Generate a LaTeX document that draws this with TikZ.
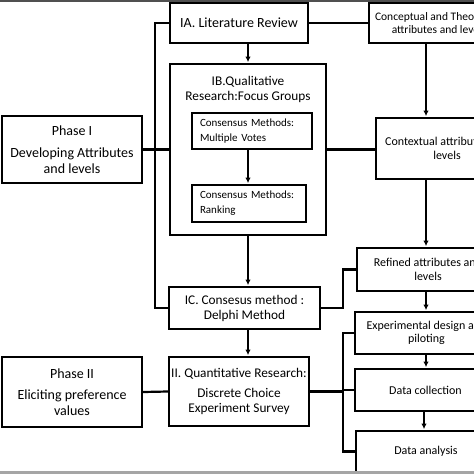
\documentclass[tikz,border=0pt]{standalone}
\usepackage{fontspec}
\setmainfont{Carlito}
\usetikzlibrary{arrows.meta}
\definecolor{topband}{RGB}{80,80,80}
\definecolor{botband}{RGB}{165,165,165}
\begin{document}
\begin{tikzpicture}[x=1pt,y=-1pt,
  box/.style={draw, line width=2.2pt, inner sep=0pt, align=center},
  conn/.style={line width=2.2pt},
  arr/.style={line width=1.1pt, -{Latex[length=5.5pt,width=5.5pt]}, shorten >=0.8pt},
  big/.style={font=\fontsize{14}{15.5}\selectfont},
  mid/.style={font=\fontsize{13.3}{15}\selectfont},
  rsm/.style={font=\fontsize{12}{13.5}\selectfont},
  csm/.style={font=\fontsize{11}{15}\selectfont}]
\useasboundingbox (0,0) rectangle (474,474);
\fill[white] (0,0) rectangle (474,474);
\clip (0,0) rectangle (474,474);
% coordinates for connector columns
\coordinate (vL) at (155,0);
\coordinate (vR) at (343,0);
\coordinate (xa) at (248,0);
\coordinate (xb) at (426,0);
\coordinate (xc) at (424,0);
% boxes
\node[box, big, minimum width=138pt, minimum height=40pt] (IA) at (239,23) {IA. Literature Review};
\node[box, font=\fontsize{11.5}{13.3}\selectfont, minimum width=140pt, minimum height=40pt] (Conc) at (439,23) {Conceptual and Theoretical\\attributes and levels};
\node[box, big, minimum width=140pt, minimum height=67pt] (P1) at (72,149.5) {Phase I\\[6.5pt]Developing Attributes\\and levels};
\node[box, minimum width=156pt, minimum height=171pt] (IB) at (248,149.5) {};
\node[mid, align=center, inner sep=0pt] (IBt) at (248,89) {IB.Qualitative\\Research:Focus Groups};
\node[box, csm, align=left, text width=104pt, minimum width=120pt, minimum height=36pt] (MV) at (252,131) {Consensus Methods:\\Multiple Votes};
\node[box, csm, align=left, text width=98pt, minimum width=114pt, minimum height=37pt] (Rank) at (249,203.5) {Consensus Methods:\\Ranking};
\node[box, rsm, minimum width=142pt, minimum height=61pt] (Ctx) at (447,148.5) {Contextual attributes and\\levels};
\node[box, rsm, minimum width=142pt, minimum height=43pt] (Ref) at (428,269.5) {Refined attributes and\\levels};
\node[box, mid, minimum width=151pt, minimum height=42pt] (IC) at (244.5,308) {IC. Consesus method :\\Delphi Method};
\node[box, big, minimum width=140pt, minimum height=70pt] (P2) at (72,392) {Phase II\\[5.5pt]Eliciting preference\\values};
\node[box, mid, minimum width=140pt, minimum height=69pt] (II) at (239,391.5) {II. Quantitative Research:\\[5pt]Discrete Choice\\Experiment Survey};
\node[box, rsm, minimum width=143pt, minimum height=42pt] (Exp) at (426.5,333) {Experimental design and\\piloting};
\node[box, rsm, minimum width=141pt, minimum height=42pt] (DC) at (425.5,390) {Data collection};
\node[box, rsm, minimum width=140pt, minimum height=41pt] (DA) at (426,451.5) {Data analysis};
% thick connectors
\draw[conn] (IA.west) -- (IA.west -| vL) -- (IC.west -| vL) -- (IC.west);
\draw[conn] (IA.east) -- (Conc.west);
\draw[conn] (P1.east) -- (IB.west);
\draw[conn] (IB.east) -- (IB.east -| Ctx.west);
\draw[conn] (IC.east) -- (IC.east -| vR) |- (Ref.west);
\draw[conn] (P2.east) -- (II.west);
\draw[conn] (II.east) -- (II.east -| vR);
\draw[conn] (Exp.west) -| (vR |- DA.west) -- (DA.west);
\draw[conn] (DC.west) -- (DC.west -| vR);
% arrows
\draw[arr] (IA.south -| xa) -- (IB.north -| xa);
\draw[arr] (MV.south -| xa) -- (Rank.north -| xa);
\draw[arr] (IB.south -| xa) -- (IC.north -| xa);
\draw[arr] (IC.south -| xa) -- (II.north -| xa);
\draw[arr] (Conc.south -| xb) -- (Ctx.north -| xb);
\draw[arr] (Ctx.south -| xb) -- (Ref.north -| xb);
\draw[arr] (Ref.south -| xb) -- (Exp.north -| xb);
\draw[arr] (Exp.south -| xb) -- (DC.north -| xb);
\draw[arr] (DC.south -| xc) -- (DA.north -| xc);
% bands
\fill[topband] (0,0) rectangle (474,1.8);
\fill[botband] (0,471) rectangle (474,474);
\end{tikzpicture}
\end{document}
